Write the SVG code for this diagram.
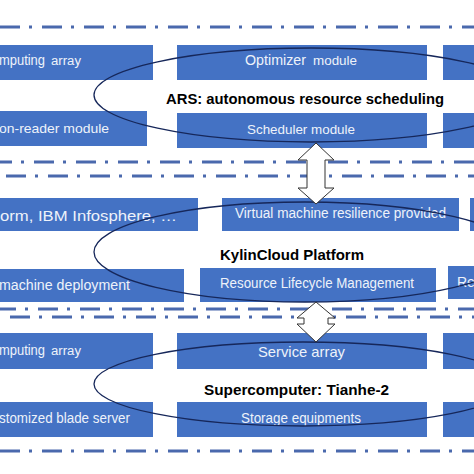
<svg xmlns="http://www.w3.org/2000/svg" width="474" height="474" viewBox="0 0 474 474">
<style>
.box{fill:#4472c4}
.bt{fill:#eef2fa;font-family:"Liberation Sans",Arial,sans-serif}
.lbl{fill:#000;font-family:"Liberation Sans",Arial,sans-serif;font-weight:bold}
.dd{stroke:#4a69ad;stroke-width:3;fill:none;stroke-dasharray:20 9 3 10}
.ell{fill:none;stroke:#16275a;stroke-width:1.3}
.arr{fill:#fff;stroke:#333;stroke-width:1}
</style>
<rect width="474" height="474" fill="#fff"/>
<g id="separators">
<line class="dd" x1="0" y1="27" x2="474" y2="27"/>
<line class="dd" x1="0" y1="162" x2="474" y2="162" stroke-dashoffset="8"/>
<line class="dd" x1="0" y1="176" x2="474" y2="176" stroke-dashoffset="-6"/>
<line class="dd" x1="0" y1="309" x2="474" y2="309" stroke-dashoffset="4"/>
<line class="dd" x1="0" y1="317" x2="474" y2="317" stroke-dashoffset="-10"/>
<line class="dd" x1="0" y1="451" x2="474" y2="451"/>
</g>
<g id="ars-layer">
<g id="n-computing-array-1"><rect class="box" x="0" y="45" width="153" height="35"/><text class="bt" x="-1" y="65" font-size="15" textLength="46" lengthAdjust="spacingAndGlyphs">mputing</text><text class="bt" x="51" y="65" font-size="12" textLength="30" lengthAdjust="spacingAndGlyphs">array</text></g>
<g id="n-optimizer"><rect class="box" x="177" y="45" width="250" height="35"/><text class="bt" x="245" y="65" font-size="15" textLength="61" lengthAdjust="spacingAndGlyphs">Optimizer</text><text class="bt" x="313" y="65" font-size="12" textLength="44" lengthAdjust="spacingAndGlyphs">module</text></g>
<g id="n-right-1"><rect class="box" x="443" y="45" width="40" height="35"/></g>
<g id="n-reader"><rect class="box" x="0" y="111" width="147" height="35"/><text class="bt" x="-1" y="133" font-size="13" textLength="110" lengthAdjust="spacingAndGlyphs">on-reader module</text></g>
<g id="n-scheduler"><rect class="box" x="177" y="113" width="250" height="35"/><text class="bt" x="247" y="134" font-size="13" textLength="108" lengthAdjust="spacingAndGlyphs">Scheduler module</text></g>
<g id="n-right-2"><rect class="box" x="443" y="113" width="40" height="35"/></g>
<ellipse class="ell" cx="311" cy="95" rx="217" ry="47"/>
<text class="lbl" x="166" y="104" font-size="14" textLength="278" lengthAdjust="spacingAndGlyphs">ARS: autonomous resource scheduling</text>
</g>
<g id="kylin-layer">
<g id="n-infosphere"><rect class="box" x="0" y="198" width="198" height="33"/><text class="bt" x="0" y="221" font-size="15" textLength="177" lengthAdjust="spacingAndGlyphs">orm,  IBM Infosphere, …</text></g>
<g id="n-resilience"><rect class="box" x="222" y="198" width="237" height="33"/><text class="bt" x="235" y="218" font-size="14" textLength="211" lengthAdjust="spacingAndGlyphs">Virtual machine resilience provided</text></g>
<g id="n-right-3"><rect class="box" x="470" y="198" width="10" height="33"/></g>
<g id="n-deployment"><rect class="box" x="0" y="269" width="184" height="33"/><text class="bt" x="-1" y="290" font-size="14" textLength="131" lengthAdjust="spacingAndGlyphs">machine  deployment</text></g>
<g id="n-lifecycle"><rect class="box" x="200" y="268" width="236" height="34"/><text class="bt" x="220" y="288" font-size="14" textLength="194" lengthAdjust="spacingAndGlyphs">Resource Lifecycle Management</text></g>
<g id="n-re"><rect class="box" x="448" y="266" width="30" height="33"/><text class="bt" x="457" y="287" font-size="14">Re</text></g>
<ellipse class="ell" cx="305" cy="252" rx="211" ry="50"/>
<text class="lbl" x="220" y="260" font-size="15" textLength="144" lengthAdjust="spacingAndGlyphs">KylinCloud Platform</text>
</g>
<g id="tianhe-layer">
<g id="n-computing-array-2"><rect class="box" x="0" y="333" width="153" height="36"/><text class="bt" x="-1" y="355" font-size="15" textLength="46" lengthAdjust="spacingAndGlyphs">mputing</text><text class="bt" x="51" y="355" font-size="12" textLength="30" lengthAdjust="spacingAndGlyphs">array</text></g>
<g id="n-service"><rect class="box" x="177" y="333" width="250" height="36"/><text class="bt" x="258" y="357" font-size="15" textLength="87" lengthAdjust="spacingAndGlyphs">Service array</text></g>
<g id="n-right-4"><rect class="box" x="443" y="333" width="40" height="36"/></g>
<g id="n-blade"><rect class="box" x="0" y="402" width="153" height="35"/><text class="bt" x="-1" y="423" font-size="14" textLength="131" lengthAdjust="spacingAndGlyphs">stomized blade server</text></g>
<g id="n-storage"><rect class="box" x="177" y="402" width="250" height="35"/><text class="bt" x="241" y="423" font-size="14" textLength="120" lengthAdjust="spacingAndGlyphs">Storage equipments</text></g>
<g id="n-right-5"><rect class="box" x="443" y="402" width="40" height="35"/></g>
<ellipse class="ell" cx="303" cy="384" rx="209" ry="42"/>
<text class="lbl" x="204" y="395" font-size="14" textLength="185" lengthAdjust="spacingAndGlyphs">Supercomputer: Tianhe-2</text>
</g>
<g id="connectors">
<path class="arr" d="M316,143 L334,160 L325,160 L325,188 L334,188 L316,204 L298,188 L307,188 L307,160 L298,160 Z"/>
<path class="arr" d="M316,302 L335,318 L328,318 L328,324 L335,324 L316,342 L297,324 L304,324 L304,318 L297,318 Z"/>
</g>
</svg>
